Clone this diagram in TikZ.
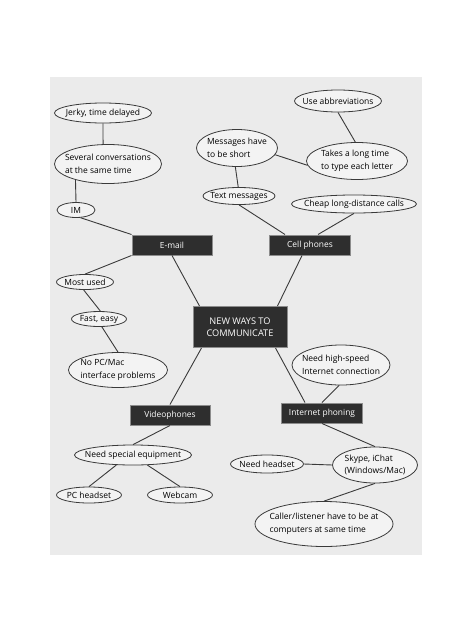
\documentclass[tikz,border=0pt]{standalone}
\usepackage{fontspec}
\setmainfont{Open Sans}
\usetikzlibrary{shapes.geometric}
\definecolor{pagegray}{HTML}{EBEBEB}
\definecolor{boxdark}{HTML}{2E2E2E}
\definecolor{inkline}{HTML}{3A3A3A}
\tikzset{
  idea/.style={ellipse, draw=inkline, line width=0.8pt, fill=pagegray!60!white,
    inner xsep=-20pt, inner ysep=-8pt,
    align=left, font=\fontsize{8.5}{12.5}\selectfont, text=black},
  topic/.style={rectangle, draw=black!45, line width=1pt, fill=boxdark, inner sep=0pt,
    text=white, font=\fontsize{8.4}{10}\selectfont},
  link/.style={draw=inkline, line width=0.9pt}
}
\begin{document}
\begin{tikzpicture}[x=1pt,y=-1pt]
\useasboundingbox (0,0) rectangle (474,632);
\fill[white] (0,0) rectangle (474,632);
\fill[pagegray] (50,77) rectangle (422,555);

% topic boxes
\node[topic, minimum width=80pt, minimum height=20pt] (email) at (172,245) {E-mail};
\node[topic, minimum width=81pt, minimum height=20pt] (cell) at (310,245) {Cell phones};
\node[topic, minimum width=94pt, minimum height=41pt, align=center, font=\fontsize{9.2}{12.5}\selectfont] (nw) at (240,327) {NEW WAYS TO\\COMMUNICATE};
\node[topic, minimum width=80pt, minimum height=20pt] (video) at (170,415) {Videophones};
\node[topic, minimum width=81pt, minimum height=20pt] (inet) at (322,413) {Internet phoning};

% e-mail branch
\node[idea, minimum width=97pt, minimum height=20pt] (jerky) at (103,113) {Jerky, time delayed};
\node[idea, minimum width=107pt, minimum height=39pt] (several) at (108,164) {Several conversations\\at the same time};
\node[idea, minimum width=38pt, minimum height=15pt] (im) at (76,210) {IM};
\node[idea, minimum width=57pt, minimum height=15pt] (most) at (85,282) {Most used};
\node[idea, minimum width=55pt, minimum height=15pt] (fast) at (99,319) {Fast, easy};
\node[idea, minimum width=99pt, minimum height=35pt] (nopc) at (118,370) {No PC/Mac\\interface problems};

% cell phone branch
\node[idea, minimum width=87pt, minimum height=22pt] (abbr) at (338,101) {Use abbreviations};
\node[idea, minimum width=81pt, minimum height=37pt] (short) at (237,148) {Messages have\\to be short};
\node[idea, minimum width=101pt, minimum height=37pt] (takes) at (357,161) {Takes a long time\\to type each letter};
\node[idea, minimum width=72pt, minimum height=17pt] (text) at (239,196) {Text messages};
\node[idea, minimum width=125pt, minimum height=18pt] (cheap) at (354,204) {Cheap long-distance calls};

% internet phoning branch
\node[idea, minimum width=98pt, minimum height=40pt] (speed) at (341,365) {Need high-speed\\Internet connection};
\node[idea, minimum width=73pt, minimum height=18pt] (headset) at (267,464) {Need headset};
\node[idea, minimum width=85pt, minimum height=36pt] (skype) at (375,465) {Skype, iChat\\(Windows/Mac)};
\node[idea, minimum width=138pt, minimum height=45pt] (caller) at (324,524) {Caller/listener have to be at\\computers at same time};

% videophone branch
\node[idea, minimum width=117pt, minimum height=20pt] (equip) at (133,455) {Need special equipment};
\node[idea, minimum width=65pt, minimum height=16pt] (pch) at (89,495) {PC headset};
\node[idea, minimum width=65pt, minimum height=16pt] (webcam) at (180,495) {Webcam};

% connectors
\draw[link] (jerky.south) -- (several.104);
\draw[link] (several.206) -- (im.north);
\draw[link] (im.300) -- (email.north west);
\draw[link] (email.south west) -- (most.north);
\draw[link] (most.260) -- (fast.80);
\draw[link] (fast.290) -- (nopc.north);
\draw[link] (email.south) -- ([xshift=7pt]nw.north west);
\draw[link] ([xshift=-8pt]cell.south) -- ([xshift=-10pt]nw.north east);
\draw[link] (text.south) -- ([xshift=16pt]cell.north west);
\draw[link] (cheap.south) -- ([xshift=8pt]cell.north);
\draw[link] (text.95) -- (short.265);
\draw[link] (short.350) -- (takes.185);
\draw[link] (takes.95) -- (abbr.south);
\draw[link] ([xshift=9pt]nw.south west) -- (video.north);
\draw[link] ([xshift=-12pt]nw.south east) -- ([xshift=-17pt]inet.north);
\draw[link] (speed.265) -- (inet.north);
\draw[link] (inet.south) -- (skype.north);
\draw[link] (skype.west) -- (headset.east);
\draw[link] (skype.south) -- (caller.north);
\draw[link] (video.south) -- (equip.north);
\draw[link] (equip.211) -- (pch.north);
\draw[link] (equip.325) -- (webcam.north);
\end{tikzpicture}
\end{document}
